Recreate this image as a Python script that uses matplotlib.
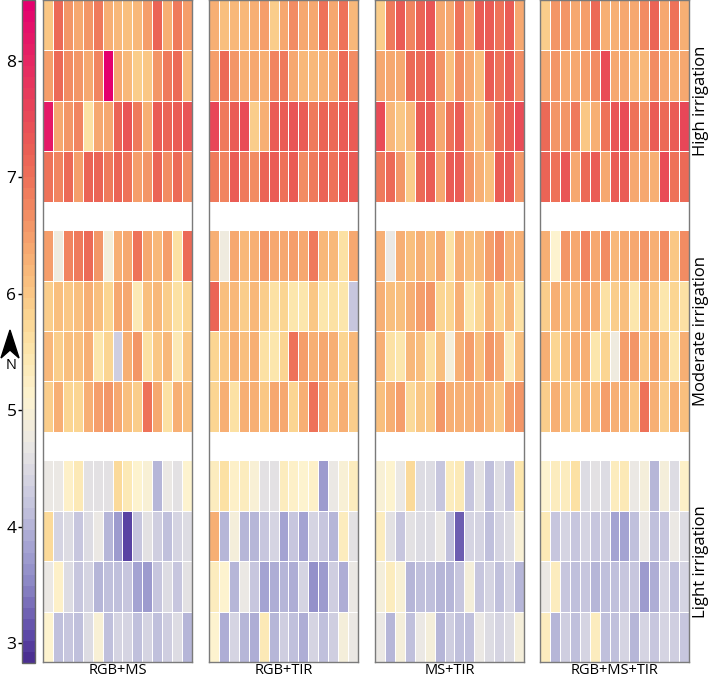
import numpy as np
import matplotlib.pyplot as plt
import matplotlib.transforms as mtransforms
from matplotlib.colors import LinearSegmentedColormap, Normalize
from matplotlib.cm import ScalarMappable
from matplotlib.patches import Polygon

plt.rcParams['font.family'] = ['Open Sans', 'DejaVu Sans']

# data: N value per plot, 12 rows (4 high, 4 moderate, 4 light) x 15 columns
panels = ['RGB+MS', 'RGB+TIR', 'MS+TIR', 'RGB+MS+TIR']
groups = ['High irrigation', 'Moderate irrigation', 'Light irrigation']

rgb_ms = [
    [6.0, 7.1, 6.6, 6.4, 6.6, 6.9, 6.3, 6.2, 6.1, 6.2, 6.5, 7.2, 6.3, 6.9, 6.5],
    [6.5, 7.1, 6.7, 6.6, 6.4, 6.8, 8.5, 6.4, 6.2, 5.9, 6.0, 6.6, 6.9, 7.1, 6.2],
    [8.2, 6.4, 6.6, 6.8, 5.6, 6.4, 6.4, 7.2, 7.4, 6.9, 6.3, 7.3, 7.2, 7.3, 7.4],
    [7.0, 6.8, 7.1, 6.5, 7.2, 7.2, 6.9, 7.2, 7.0, 6.5, 6.6, 7.2, 6.7, 7.1, 6.7],
    [6.5, 4.8, 6.8, 6.9, 7.1, 6.6, 4.9, 6.3, 6.4, 7.0, 6.4, 6.2, 6.5, 5.6, 7.1],
    [5.9, 6.1, 6.0, 6.1, 6.3, 6.1, 5.8, 6.4, 6.4, 5.4, 6.1, 6.2, 5.9, 5.6, 5.8],
    [6.2, 5.9, 6.1, 6.1, 6.3, 5.5, 5.8, 4.3, 6.3, 6.6, 5.6, 6.0, 6.2, 5.4, 6.0],
    [5.9, 6.3, 5.8, 5.8, 6.3, 6.5, 6.6, 6.4, 6.1, 5.9, 7.0, 6.4, 5.6, 6.3, 6.1],
    [4.7, 4.7, 5.2, 5.4, 4.6, 4.6, 4.6, 5.7, 5.4, 5.1, 5.0, 4.0, 4.7, 4.6, 5.1],
    [5.7, 4.4, 4.5, 4.2, 4.5, 4.7, 4.0, 3.7, 3.0, 4.2, 4.6, 4.3, 4.1, 4.4, 4.5],
    [4.7, 5.2, 4.5, 4.2, 4.4, 4.0, 4.1, 4.1, 4.2, 3.8, 3.7, 4.2, 4.5, 4.2, 4.6],
    [5.1, 4.1, 4.2, 4.1, 4.5, 5.0, 4.1, 4.4, 4.4, 4.1, 4.4, 4.1, 4.3, 4.5, 4.0],
]
rgb_tir = [
    [6.3, 6.1, 6.2, 6.2, 6.3, 6.5, 5.9, 6.4, 6.7, 6.4, 6.4, 7.0, 6.4, 7.0, 6.2],
    [6.5, 7.1, 6.6, 6.3, 6.4, 6.3, 6.8, 6.9, 6.4, 6.2, 6.2, 6.3, 6.4, 7.1, 6.7],
    [7.6, 6.9, 7.3, 7.5, 5.9, 6.3, 7.3, 7.3, 7.4, 7.3, 6.9, 7.2, 7.1, 7.3, 7.3],
    [6.9, 6.8, 7.3, 6.9, 6.7, 7.2, 7.3, 7.0, 7.3, 6.7, 6.9, 7.2, 7.0, 7.3, 7.3],
    [6.3, 4.8, 6.4, 6.2, 6.3, 6.6, 6.4, 6.4, 6.5, 6.4, 6.9, 6.2, 6.2, 5.6, 6.4],
    [7.2, 6.1, 6.2, 5.9, 6.2, 5.9, 5.6, 5.8, 5.5, 5.5, 6.0, 5.5, 5.6, 5.5, 4.2],
    [5.8, 6.0, 6.3, 6.1, 6.3, 5.6, 5.5, 5.8, 7.0, 6.5, 6.3, 6.4, 6.3, 5.8, 6.2],
    [5.8, 6.3, 5.6, 6.3, 6.3, 6.0, 6.4, 6.4, 5.8, 6.3, 7.0, 6.5, 6.0, 6.3, 5.9],
    [5.3, 5.6, 5.2, 5.3, 5.0, 4.6, 4.6, 5.3, 5.2, 5.1, 5.2, 3.7, 4.7, 5.0, 5.3],
    [6.3, 4.0, 4.9, 4.0, 4.0, 4.2, 4.4, 3.8, 4.2, 3.8, 4.4, 4.2, 4.0, 5.3, 4.6],
    [5.3, 5.1, 4.0, 4.7, 4.2, 3.8, 3.9, 4.0, 3.9, 4.4, 3.6, 3.7, 4.3, 3.9, 4.7],
    [5.1, 3.9, 4.4, 4.0, 3.9, 5.4, 4.0, 4.3, 4.1, 3.9, 4.4, 4.1, 4.3, 4.9, 4.7],
]
ms_tir = [
    [5.9, 6.9, 7.3, 6.8, 7.2, 7.4, 6.4, 6.4, 7.0, 6.4, 7.3, 7.3, 7.0, 7.3, 6.4],
    [6.4, 6.4, 6.4, 7.1, 7.1, 7.3, 6.6, 6.1, 6.7, 6.4, 6.1, 7.3, 7.0, 7.3, 6.7],
    [7.5, 6.2, 6.0, 6.2, 7.3, 7.3, 6.4, 7.0, 7.3, 6.4, 6.1, 6.6, 7.1, 7.3, 7.5],
    [6.9, 7.1, 6.6, 5.9, 7.1, 7.3, 6.4, 7.3, 7.3, 6.6, 6.3, 6.1, 7.3, 7.3, 6.6],
    [6.3, 4.7, 6.3, 6.1, 6.3, 6.1, 6.4, 5.6, 6.3, 6.1, 6.2, 6.5, 6.7, 6.3, 6.3],
    [6.3, 6.1, 6.1, 6.3, 6.5, 6.6, 5.8, 5.8, 6.3, 5.5, 5.8, 6.3, 5.8, 6.2, 5.6],
    [6.3, 5.6, 5.5, 6.2, 6.1, 5.6, 6.1, 4.9, 6.3, 6.5, 6.1, 6.6, 6.4, 5.4, 6.1],
    [6.1, 6.3, 6.5, 5.7, 6.0, 6.0, 6.6, 6.3, 6.3, 6.3, 6.4, 6.2, 6.0, 6.5, 6.6],
    [5.0, 5.1, 4.7, 5.7, 4.5, 4.5, 4.2, 5.3, 5.4, 4.2, 4.6, 4.1, 4.5, 4.2, 5.5],
    [5.3, 4.6, 4.2, 4.6, 4.5, 4.5, 4.7, 4.1, 3.2, 4.4, 4.4, 4.1, 4.4, 4.5, 5.0],
    [4.9, 5.3, 5.0, 4.0, 4.1, 4.1, 4.0, 4.0, 4.2, 4.9, 4.2, 4.4, 4.1, 4.4, 4.0],
    [4.7, 4.0, 4.9, 4.1, 4.7, 4.9, 4.0, 4.3, 4.1, 4.1, 4.7, 4.5, 4.4, 4.5, 4.9],
]
rgb_ms_tir = [
    [5.9, 6.6, 6.6, 6.4, 6.5, 7.1, 6.3, 6.3, 6.4, 6.4, 6.7, 7.2, 6.4, 7.0, 6.3],
    [6.4, 6.6, 6.4, 6.4, 6.5, 6.7, 7.5, 6.4, 6.4, 6.2, 6.2, 6.7, 6.4, 6.3, 6.4],
    [7.1, 6.6, 6.6, 6.9, 6.0, 6.3, 7.0, 7.4, 7.5, 7.0, 6.7, 7.3, 7.1, 7.3, 7.6],
    [7.2, 7.0, 7.4, 6.4, 7.1, 7.3, 6.4, 7.3, 7.3, 6.4, 6.4, 6.3, 7.5, 7.0, 7.1],
    [6.3, 5.1, 6.6, 6.4, 6.8, 6.4, 6.7, 6.2, 6.4, 6.4, 6.6, 6.3, 6.7, 6.0, 6.7],
    [5.9, 6.3, 6.2, 6.2, 6.4, 6.3, 5.6, 5.9, 6.1, 5.5, 6.2, 6.0, 5.5, 5.8, 5.6],
    [6.3, 5.8, 6.1, 6.3, 6.3, 5.5, 5.8, 4.8, 6.5, 6.6, 6.0, 6.4, 6.1, 5.5, 6.3],
    [5.9, 6.3, 6.1, 5.9, 6.3, 6.1, 6.5, 6.3, 6.3, 6.0, 7.0, 6.3, 5.9, 6.3, 6.1],
    [5.1, 5.3, 5.3, 5.6, 4.5, 4.6, 4.5, 5.3, 5.4, 4.7, 4.9, 4.0, 4.9, 4.5, 5.2],
    [5.4, 4.2, 4.4, 4.2, 4.4, 4.2, 4.3, 3.8, 3.8, 4.1, 4.7, 4.1, 4.2, 4.7, 4.5],
    [4.7, 5.3, 4.2, 4.1, 4.2, 4.0, 4.1, 4.1, 4.2, 4.2, 3.7, 3.9, 4.4, 4.1, 4.4],
    [5.3, 4.0, 4.3, 4.1, 4.4, 5.3, 4.1, 4.1, 4.4, 4.0, 4.4, 4.2, 4.4, 4.3, 4.2],
]
panel_data = [rgb_ms, rgb_tir, ms_tir, rgb_ms_tir]
cbar_ticks = [3, 4, 5, 6, 7, 8]

# colour scale
vmin, vmax = 2.83, 8.52
anchors = [
    (2.83, '#4b2f91'), (3.0, '#5a45a5'), (3.5, '#8d89c6'), (3.8, '#a5a4d2'),
    (4.1, '#c0c0dc'), (4.4, '#d6d5e2'), (4.7, '#ebe8e4'), (5.1, '#fdf3d0'),
    (5.5, '#fce6ad'), (5.8, '#fbd592'), (6.1, '#f9c07f'), (6.4, '#f6a870'),
    (6.7, '#f28d63'), (7.0, '#ee7259'), (7.3, '#ea5d55'), (7.6, '#e84658'),
    (8.0, '#e62a62'), (8.52, '#e4006e'),
]
cmap = LinearSegmentedColormap.from_list(
    'n_cmap', [((v - vmin) / (vmax - vmin), c) for v, c in anchors])
norm = Normalize(vmin, vmax)

W, H = 708, 677
fig = plt.figure(figsize=(W / 100, H / 100), dpi=100)

gap = 0.566
total = 12 + 2 * gap
panel_left = [43, 209, 375, 540]

for i, (name, data) in enumerate(zip(panels, panel_data)):
    ax = fig.add_axes([panel_left[i] / W, 1 - 662 / H, 149 / W, 662 / H])
    arr = np.array(data)
    for g in range(3):
        y0 = g * (4 + gap)
        ax.pcolormesh(np.arange(16), y0 + np.arange(5), arr[4 * g:4 * g + 4],
                      cmap=cmap, norm=norm, edgecolors='white', linewidth=0.7)
    ax.set_xlim(0, 15)
    ax.set_ylim(total, 0)
    ax.set_xticks([])
    ax.set_yticks([])
    for s in ax.spines.values():
        s.set_color('#7a7a7a')
        s.set_linewidth(1)
    fig.text((panel_left[i] + 74.5) / W, 2.5 / H, name, ha='center',
             va='baseline', fontsize=10.5)
    if i == 3:
        trans = mtransforms.blended_transform_factory(ax.transAxes, ax.transData)
        for g, label in enumerate(groups):
            ax.text(1.025, g * (4 + gap) + 2, label, transform=trans,
                    rotation=90, ha='left', va='center', fontsize=12)

# colour bar
cax = fig.add_axes([22 / W, 1 - 663 / H, 13 / W, 663 / H])
sm = ScalarMappable(norm=norm, cmap=cmap.resampled(60))
cb = fig.colorbar(sm, cax=cax, ticks=cbar_ticks)
cb.outline.set_edgecolor('#666666')
cb.outline.set_linewidth(1)
cax.yaxis.set_ticks_position('left')
cax.yaxis.set_label_position('left')
cax.tick_params(labelsize=12.5, length=3, width=1, pad=1)

# north arrow
pts = [(10, 330), (19, 358), (10, 350), (1, 358)]
fig.add_artist(Polygon([(x / W, 1 - y / H) for x, y in pts], closed=True,
                       facecolor='black', edgecolor='black',
                       transform=fig.transFigure))
fig.text(11 / W, 1 - 366 / H, 'N', ha='center', va='center', fontsize=10.5)

fig.savefig('out.png', dpi=100)
